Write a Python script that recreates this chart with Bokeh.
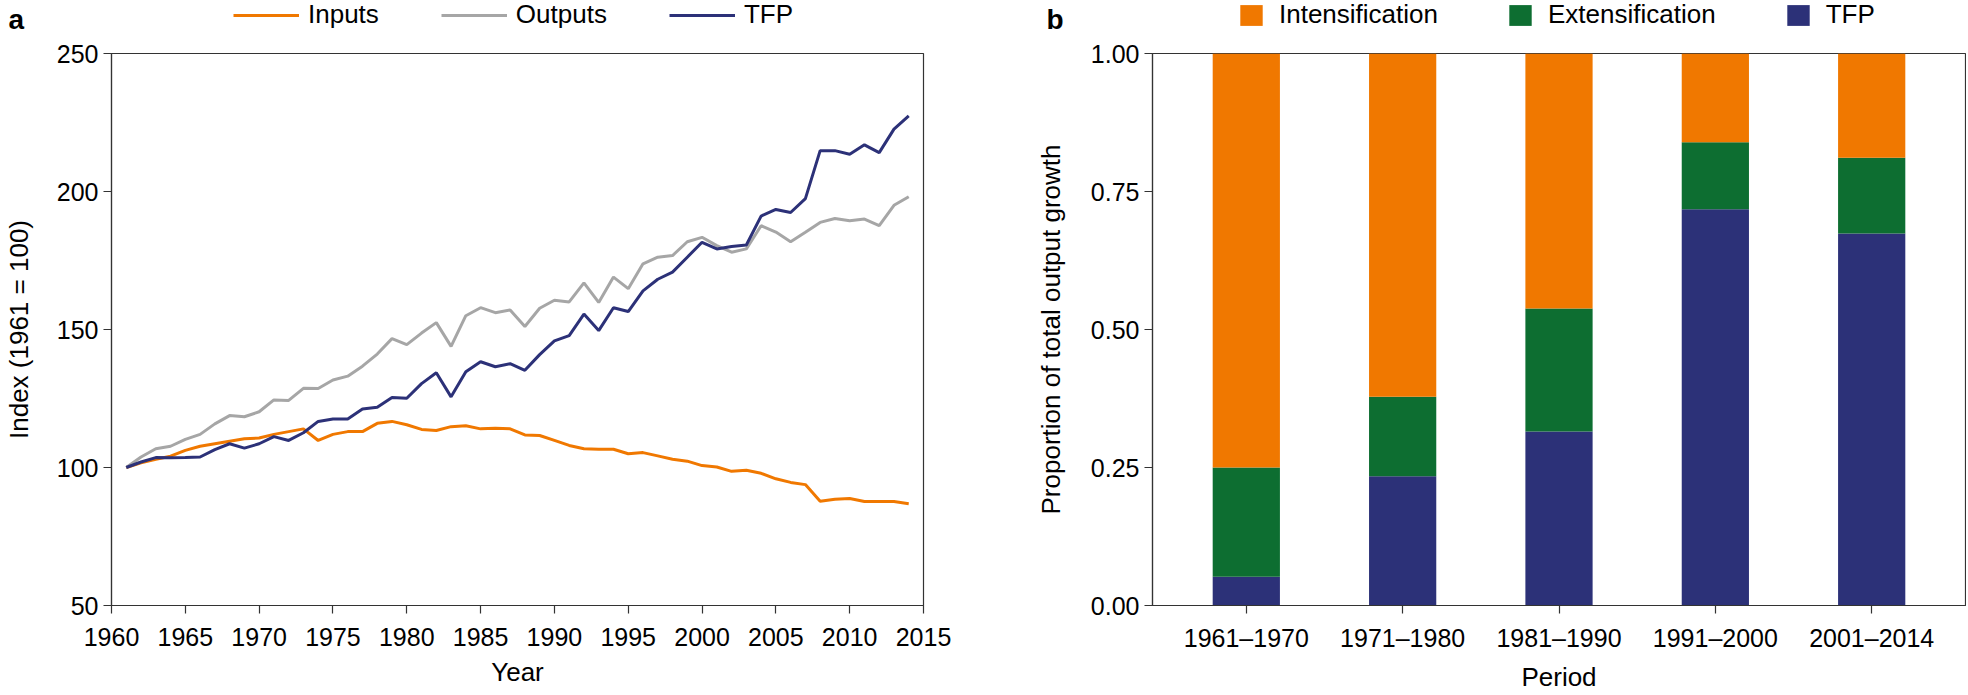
from bokeh.plotting import figure
from bokeh.models import (Legend, LegendItem, FixedTicker, FactorRange, Label,
                          Range1d, ColumnDataSource, NumeralTickFormatter)
from bokeh.layouts import row, column
from bokeh.embed import file_html
from bokeh.resources import INLINE

# ---------------- data ----------------
years = list(range(1961, 2015))
inputs = [100, 101.7, 103, 104.1, 106.2, 107.7, 108.6, 109.5, 110.4, 110.7,
          112, 113, 114, 109.8, 112, 113, 113, 116, 116.7, 115.5,
          113.8, 113.4, 114.8, 115.1, 114, 114.2, 114, 111.8, 111.6, 109.8,
          108, 106.8, 106.6, 106.6, 105, 105.4, 104.2, 103, 102.3, 100.7,
          100.2, 98.6, 99, 97.9, 95.9, 94.6, 93.8, 87.8, 88.5, 88.8,
          87.7, 87.7, 87.7, 86.9]
outputs = [100, 103.8, 106.8, 107.7, 110.2, 112, 115.8, 118.8, 118.4, 120.2,
           124.5, 124.3, 128.7, 128.6, 131.7, 133.1, 136.7, 141.1, 146.7, 144.5,
           148.7, 152.5, 143.9, 155, 157.9, 156.1, 157.1, 151.1, 157.7, 160.6,
           160, 166.9, 159.8, 169, 164.8, 173.8, 176.2, 176.8, 181.8, 183.4,
           180.4, 178, 179.2, 187.6, 185.3, 181.8, 185.2, 188.8, 190.2, 189.4,
           190, 187.6, 195, 198.1]
tfp = [100, 102, 103.6, 103.5, 103.6, 103.8, 106.5, 108.6, 107, 108.6,
       111.2, 109.8, 112.6, 116.7, 117.6, 117.6, 121.2, 121.8, 125.4, 125.1,
       130.4, 134.3, 125.6, 134.7, 138.3, 136.5, 137.6, 135.2, 140.9, 145.9,
       147.8, 155.6, 149.6, 157.9, 156.5, 164, 168.2, 170.8, 176.2, 181.6,
       179.2, 180.1, 180.6, 191.1, 193.5, 192.4, 197.4, 214.8, 214.8, 213.5,
       216.9, 214.1, 222.6, 227.4]
x_ticks = list(range(1960, 2016, 5))
y_ticks_a = [50, 100, 150, 200, 250]
line_labels = ["Inputs", "Outputs", "TFP"]

periods = ["1961\u20131970", "1971\u20131980", "1981\u20131990", "1991\u20132000", "2001\u20132014"]
share_tfp = [0.052, 0.234, 0.315, 0.718, 0.674]
share_ext = [0.198, 0.144, 0.223, 0.121, 0.137]
share_int = [0.750, 0.622, 0.462, 0.161, 0.189]
y_ticks_b = [0.0, 0.25, 0.5, 0.75, 1.0]
bar_labels = ["Intensification", "Extensification", "TFP"]

# ---------------- style ----------------
FONT = "Liberation Sans"
ORANGE = "#F07800"
GRAY = "#A6A6A6"
NAVY = "#2C3178"
GREEN = "#0D6E31"
AX = "#333333"
NAN = float("nan")
HH = 39          # header (legend) height
H = 694 - HH     # main plot height
TOP = 14
BOTTOM = 86
W1 = 1010
W2 = 956


def style_axes(p):
    for ax in p.axis:
        ax.axis_line_color = AX
        ax.axis_line_width = 1.2
        ax.major_tick_line_color = AX
        ax.major_tick_line_width = 1.2
        ax.major_tick_out = 8
        ax.major_tick_in = 0
        ax.minor_tick_out = 0
        ax.minor_tick_in = 0
        ax.major_label_text_font = FONT
        ax.major_label_text_font_size = "25px"
        ax.major_label_text_color = "black"
        ax.major_label_standoff = 5
        ax.axis_label_text_font = FONT
        ax.axis_label_text_font_size = "26px"
        ax.axis_label_text_font_style = "normal"
        ax.axis_label_text_color = "black"
    p.xgrid.visible = False
    p.ygrid.visible = False
    p.outline_line_color = AX
    p.outline_line_width = 1.2


def header(width):
    h = figure(width=width, height=HH, x_range=Range1d(0, width), y_range=Range1d(0, HH),
               x_axis_type=None, y_axis_type=None, output_backend="svg",
               toolbar_location=None, min_border=0)
    h.xgrid.visible = False
    h.ygrid.visible = False
    h.outline_line_color = None
    return h


def legend(items, x, gh, **kw):
    return Legend(items=items, orientation="horizontal", location=(x, HH - 15 - 15),
                  padding=0, margin=0, border_line_color=None, background_fill_alpha=0,
                  label_text_font=FONT, label_text_font_size="26px",
                  label_text_color="black", glyph_height=gh, label_height=30, **kw)


def letter(h, txt, x):
    h.add_layout(Label(x=x, y=HH - 19, x_units="screen", y_units="screen", text=txt,
                       text_font=FONT, text_font_style="bold", text_font_size="28px",
                       text_color="black", text_baseline="middle"))


# ---------------- panel a ----------------
h1 = header(W1)
keys_a = [h1.line(x=[NAN], y=[NAN], line_color=c, line_width=3) for c in (ORANGE, GRAY, NAVY)]
h1.add_layout(legend([LegendItem(label=l, renderers=[r]) for l, r in zip(line_labels, keys_a)],
                     233, 30, spacing=62, glyph_width=66, label_standoff=9))
letter(h1, "a", 8)

p1 = figure(width=W1, height=H, x_range=Range1d(1960, 2015), y_range=Range1d(50, 250),
            output_backend="svg", toolbar_location=None,
            min_border_left=105, min_border_right=W1 - 923,
            min_border_top=TOP, min_border_bottom=BOTTOM)
p1.line(years, inputs, line_color=ORANGE, line_width=3)
p1.line(years, outputs, line_color=GRAY, line_width=3)
p1.line(years, tfp, line_color=NAVY, line_width=3)
style_axes(p1)
p1.xaxis.ticker = FixedTicker(ticks=x_ticks)
p1.yaxis.ticker = FixedTicker(ticks=y_ticks_a)
p1.xaxis.axis_label = "Year"
p1.yaxis.axis_label = "Index (1961 = 100)"
p1.xaxis.major_label_standoff = 14
p1.xaxis.axis_label_standoff = 8
p1.yaxis.axis_label_standoff = 20

# ---------------- panel b ----------------
h2 = header(W2)
keys_b = [h2.vbar(x=[NAN], top=[NAN], width=1, fill_color=c, line_color=None)
          for c in (ORANGE, GREEN, NAVY)]
h2.add_layout(legend([LegendItem(label=l, renderers=[r]) for l, r in zip(bar_labels, keys_b)],
                     1237 - W1, 26, spacing=68, glyph_width=28, label_standoff=14))
letter(h2, "b", 1046 - W1)

src = ColumnDataSource(dict(period=periods, tfp=share_tfp, ext=share_ext, int=share_int))
p2 = figure(width=W2, height=H, x_range=FactorRange(*periods, range_padding=0.04),
            y_range=Range1d(0, 1), output_backend="svg", toolbar_location=None,
            min_border_left=1152 - W1, min_border_right=1,
            min_border_top=TOP, min_border_bottom=BOTTOM)
p2.vbar_stack(["tfp", "ext", "int"], x="period", width=0.43, source=src,
              color=[NAVY, GREEN, ORANGE], line_color=None)
style_axes(p2)
p2.yaxis.ticker = FixedTicker(ticks=y_ticks_b)
p2.yaxis.formatter = NumeralTickFormatter(format="0.00")
p2.xaxis.axis_label = "Period"
p2.yaxis.axis_label = "Proportion of total output growth"
p2.xaxis.major_label_standoff = 10
p2.xaxis.axis_label_standoff = 7
p2.yaxis.axis_label_standoff = 22

layout = column(row(h1, h2), row(p1, p2))
open("out.html", "w").write(file_html(layout, INLINE))
